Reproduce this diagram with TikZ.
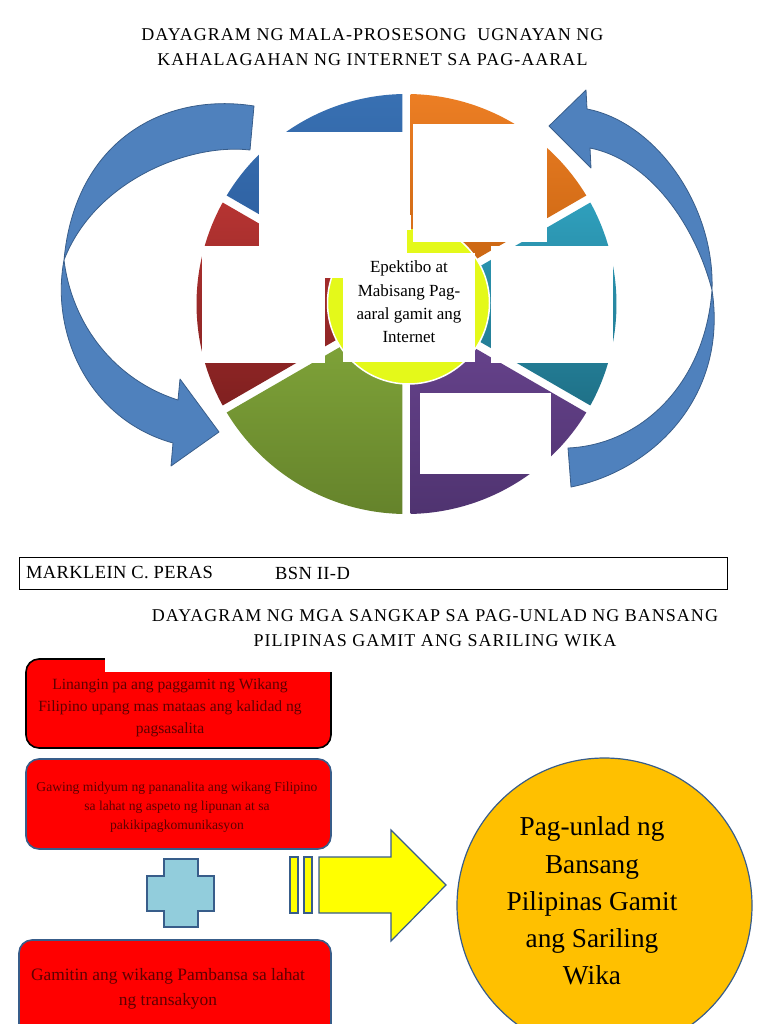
\documentclass[tikz,border=0pt]{standalone}
\usepackage{fontspec}
\setmainfont{Liberation Serif}
\usetikzlibrary{calc}

\definecolor{arrowblue}{HTML}{4F81BD}
\definecolor{arrowline}{HTML}{385D8A}
\definecolor{hublime}{HTML}{E4F91A}
\definecolor{boxred}{HTML}{FF0000}
\definecolor{inkred}{HTML}{5E0000}
\definecolor{crossblue}{HTML}{92CDDC}
\definecolor{goalgold}{HTML}{FFC000}
\definecolor{stuborange}{HTML}{D9701A}
\definecolor{barsyellow}{HTML}{FFFF00}

\tikzset{
  curvearrow/.style={fill=arrowblue,draw=arrowline,line width=.8pt,line join=round},
  blank/.style={fill=white,draw=none},
  redbox/.style={fill=boxred,draw=#1,line width=1.6pt,rounded corners=13pt},
  yellowpart/.style={fill=barsyellow,draw=arrowline,line width=1.2pt},
  titletext/.style={font=\fontsize{18}{25}\selectfont\addfontfeature{LetterSpace=5.7},align=center,text=black},
  boxtext/.style={align=center,text=inkred,inner sep=0pt},
  nametext/.style={anchor=west,inner sep=0pt,font=\fontsize{18.5}{20}\selectfont\addfontfeature{LetterSpace=2}}
}

\begin{document}
\begin{tikzpicture}[x=1pt,y=1pt]
\useasboundingbox (0,0) rectangle (768,-1024);
\fill[white] (0,0) rectangle (768,-1024);

% titles
\node[titletext] (title1) at (372.5,-47.5) {DAYAGRAM NG MALA-PROSESONG~ UGNAYAN NG\\KAHALAGAHAN NG INTERNET SA PAG-AARAL};
\node[titletext] (title2) at (435,-628.5) {DAYAGRAM NG MGA SANGKAP SA PAG-UNLAD NG BANSANG\\PILIPINAS GAMIT ANG SARILING WIKA};

% sectors
\coordinate (pie) at (406.5,-304);
\foreach \mid/\ctop/\cbot in {60/EC7E24/C4620F, 0/2F9FBC/1F7188, -60/6A4590/4F3370, -120/83A83B/65832B, 180/B63432/802020, 120/3870B2/2A5A9A}{
  \definecolor{ctopc}{HTML}{\ctop}
  \definecolor{cbotc}{HTML}{\cbot}
  \shade[top color=ctopc,bottom color=cbotc] ($(pie)+(\mid:8)$) -- ($(pie)+(\mid-28.9:210)$)
    arc[start angle=\mid-28.9,end angle=\mid+28.9,radius=210pt] -- cycle;
}

% middle
\node[circle,fill=hublime,draw=white,line width=1.5pt,minimum size=162pt,inner sep=0pt] (hub) at (408.5,-303) {};

% white boxes on the sectors
\fill[blank] (259,-132) rectangle (407,-253);
\fill[blank] (202,-246) rectangle (325,-363);
\fill[blank] (320,-240) rectangle (343,-278);
\fill[blank] (413,-124) rectangle (547,-242);
\fill[blank] (491,-246) rectangle (613,-363);
\fill[blank] (420,-393) rectangle (551,-474);
\fill[blank] (407,-215) rectangle (411,-230);
\fill[stuborange] (411,-215) rectangle (413,-229);
\fill[blank] (343,-253) rectangle (475,-362);

\node[align=center,inner sep=0pt,font=\fontsize{17}{23.3}\selectfont] (center) at (409,-302) {Epektibo at\\Mabisang Pag-\\aaral gamit ang\\Internet};

% left arrow
\draw[curvearrow] (254,-106) .. controls (165,-92) and (75,-140) .. (64,-260)
  .. controls (72,-325) and (115,-380) .. (178,-400)
  -- (180,-379) -- (219,-432) -- (171,-466) -- (173,-443)
  .. controls (90,-420) and (50,-335) .. (64,-260)
  .. controls (95,-180) and (190,-143) .. (250,-150) -- cycle;

% right arrow
\draw[curvearrow] (587,-109) .. controls (655,-122) and (715,-205) .. (712,-290)
  .. controls (728,-395) and (655,-470) .. (571,-487)
  -- (568,-448)
  .. controls (640,-445) and (705,-385) .. (712,-290)
  .. controls (695,-225) and (650,-160) .. (590,-148)
  -- (591,-168) -- (549,-126) -- (586,-90) -- cycle;

% name box
\draw[black,line width=.8pt] (19,-557) rectangle (727,-589);
\node[nametext] (author) at (26,-573) {MARKLEIN C. PERAS};
\node[nametext] (course) at (275,-573) {BSN II-D};

% red boxes
\draw[redbox=black] (26,-659) rectangle (331,-748);
\fill[blank] (105,-650) rectangle (335,-672);
\node[boxtext,font=\fontsize{15.6}{22}\selectfont] (first) at (170,-708) {Linangin pa ang paggamit ng Wikang\\Filipino upang mas mataas ang kalidad ng\\pagsasalita};
\draw[redbox=arrowline] (26,-759) rectangle (331,-849);
\node[boxtext,font=\fontsize{13.6}{19}\selectfont] (second) at (177,-807) {Gawing midyum ng pananalita ang wikang Filipino\\sa lahat ng aspeto ng lipunan at sa\\pakikipagkomunikasyon};
\draw[redbox=arrowline] (19,-940) rectangle (331,-1045);
\node[boxtext,font=\fontsize{17.4}{25}\selectfont] (third) at (168,-989) {Gamitin ang wikang Pambansa sa lahat\\ng transakyon};

% cross
\draw[fill=crossblue,draw=arrowline,line width=1.2pt] (164,-859) -- (198,-859) -- (198,-876) -- (214,-876) -- (214,-911) -- (198,-911) -- (198,-927) -- (164,-927) -- (164,-911) -- (147,-911) -- (147,-876) -- (164,-876) -- cycle;

% yellow arrow
\draw[yellowpart] (290,-857) rectangle (298,-913);
\draw[yellowpart] (304,-857) rectangle (312,-913);
\draw[yellowpart] (319,-857) -- (391,-857) -- (391,-830) -- (446,-885) -- (391,-941) -- (391,-913) -- (319,-913) -- cycle;

% goal circle
\node[circle,fill=goalgold,draw=arrowline,line width=1.2pt,minimum size=295pt,inner sep=0pt] (goal) at (604.5,-905.5) {};
\node[align=center,inner sep=0pt,font=\fontsize{27.3}{37.2}\selectfont] (goaltext) at (592,-901) {Pag-unlad ng\\Bansang\\Pilipinas Gamit\\ang Sariling\\Wika};
\end{tikzpicture}
\end{document}
